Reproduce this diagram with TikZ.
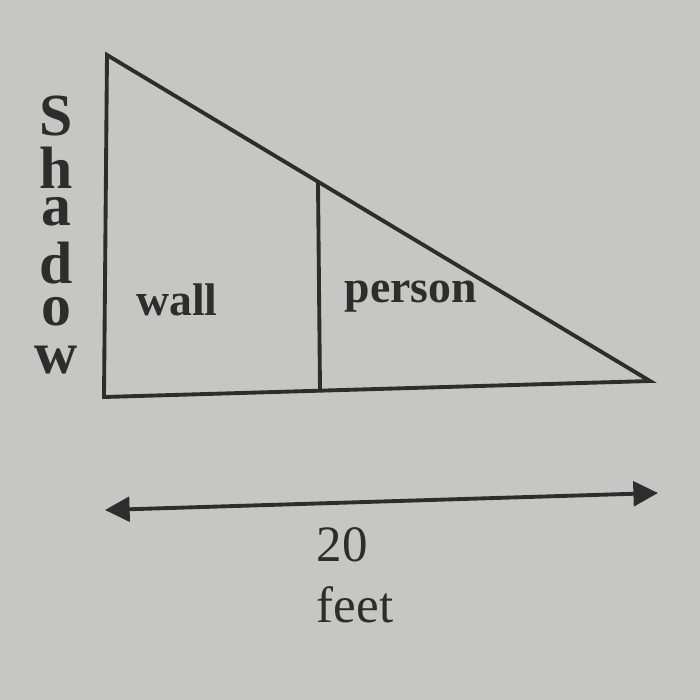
\documentclass[tikz,border=0pt]{standalone}
\usepackage{fontspec}
\setmainfont{Liberation Serif}
\usepackage{xcolor}
\usetikzlibrary{arrows.meta}
\usetikzlibrary{positioning, calc}
\definecolor{paper}{RGB}{198,198,196}
\definecolor{ink}{RGB}{45,45,45}

\begin{document}
\begin{tikzpicture}[
        x=0.01cm, y=-0.01cm,
        every node/.style={text=ink, inner sep=0pt},
        edge/.style={draw=ink, line width=1.1pt},
        label/.style={font=\fontsize{13}{16}\selectfont\bfseries},
        letter/.style={anchor=base, font=\fontsize{17}{20}\selectfont\bfseries},
        span/.style={draw=ink, line width=1.1pt, {Triangle[length=7pt, width=7pt]}-{Triangle[length=7pt, width=7pt]}}
        ]
        % Background
        \fill[paper] (0,0) rectangle (700,700);
        \useasboundingbox (0,0) rectangle (700,700);

        % Corners
        \coordinate (top) at (107,55);
        \coordinate (base) at (104,397);
        \coordinate (tip) at (650,381);
        \coordinate (headtop) at (318,183);
        \coordinate (headfoot) at (320,390);
        \coordinate (leftend) at (105,510);
        \coordinate (rightend) at (658,493);

        % Shapes
        \draw[edge, line join=miter] (top) -- (base) -- (tip) -- cycle;
        \draw[edge] (headtop) -- (headfoot);

        % Nodes
        \node[label] (wall) at (177,300) {wall};
        \node[label] (person) at (411,297) {person};
        \foreach \ch/\ypos [count=\i] in {S/135,h/188,a/225,d/283,o/325,w/373}
            \node[letter] (shadow\i) at (56,\ypos) {\ch};
        \node[font=\fontsize{14.5}{17}\selectfont] (twenty) at (342,545) {20};
        \node[font=\fontsize{14.5}{17}\selectfont] (feet) at (355,605) {feet};

        % Arrows
        \draw[span] (leftend) -- (rightend);

\end{tikzpicture}
\end{document}
